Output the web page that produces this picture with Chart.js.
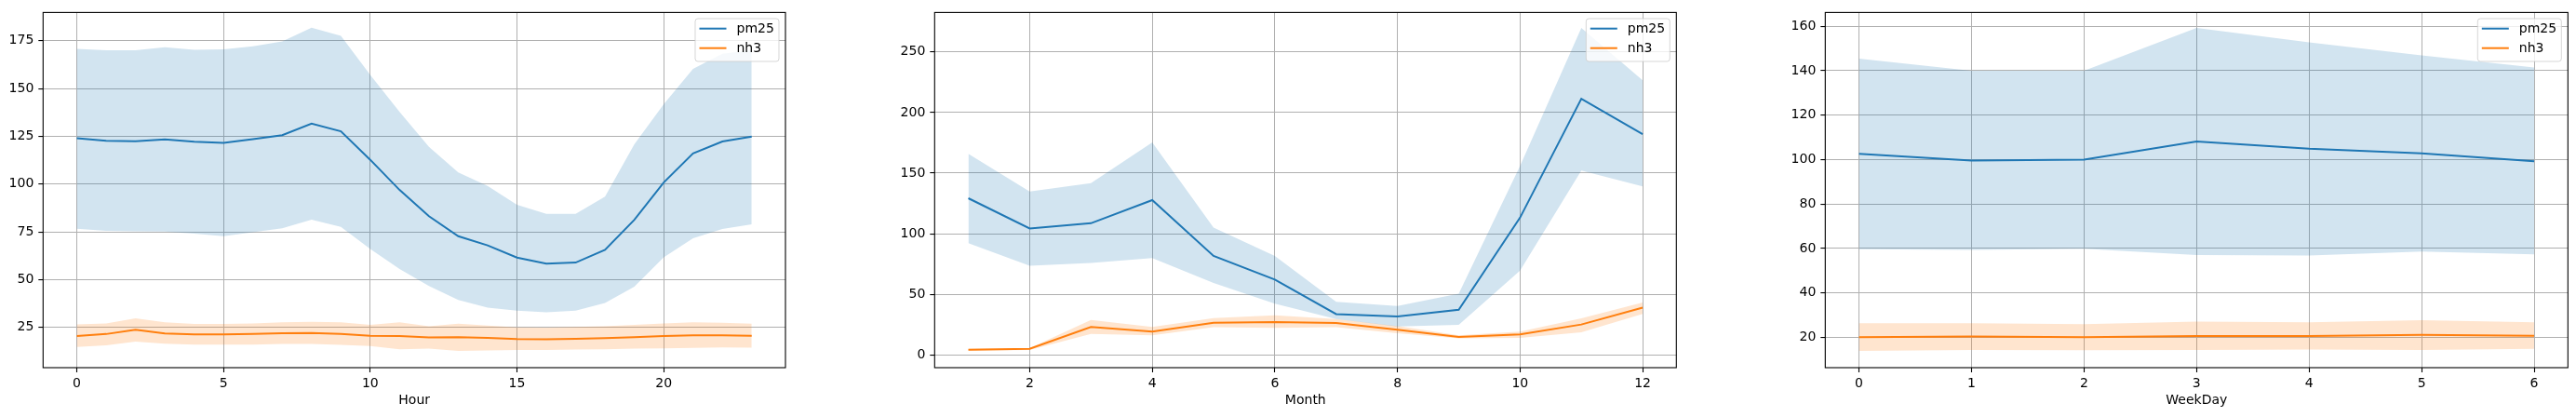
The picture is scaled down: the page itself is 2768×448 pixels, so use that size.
<!DOCTYPE html>
<html lang="en">
<head>
<meta charset="UTF-8">
<title>pm25 / nh3</title>
<style>
    html, body { margin: 0; padding: 0; background: #fff; }
    body { width: 2768px; height: 448px; position: relative; overflow: hidden; }
    canvas { position: absolute; top: 0; }
</style>
</head>
<body>

<canvas id="hourChart"></canvas>
<canvas id="monthChart"></canvas>
<canvas id="weekChart"></canvas>

<script src="https://cdn.jsdelivr.net/npm/chart.js@4.4.3/dist/chart.umd.min.js"></script>
<script>
    // ---- by hour ----
    const hours = [0, 1, 2, 3, 4, 5, 6, 7, 8, 9, 10, 11, 12, 13, 14, 15, 16, 17, 18, 19, 20, 21, 22, 23]
    const hourPm25 = [124.0, 122.6, 122.4, 123.4, 122.1, 121.5, 123.5, 125.6, 131.6, 127.6, 112.7, 96.9, 83.2, 72.7, 67.9, 61.5, 58.4, 58.9, 65.6, 81.3, 100.8, 116.0, 122.3, 124.8]
    const hourPm25Hi = [170.8, 170.0, 170.0, 171.6, 170.3, 170.5, 172.1, 174.7, 181.8, 177.6, 157.1, 137.7, 119.5, 106.1, 99.0, 89.2, 84.4, 84.4, 93.4, 120.8, 141.8, 160.3, 168.2, 170.0]
    const hourPm25Lo = [76.6, 75.5, 75.3, 75.2, 74.0, 72.7, 74.8, 76.8, 81.3, 77.6, 66.0, 55.5, 46.6, 39.4, 35.3, 33.7, 32.9, 33.7, 37.7, 46.3, 61.6, 71.6, 76.5, 78.9]
    const hourNh3 = [20.5, 21.5, 23.7, 21.8, 21.3, 21.3, 21.6, 21.9, 22.1, 21.6, 20.6, 20.5, 19.7, 19.8, 19.5, 18.9, 18.7, 19.0, 19.4, 19.8, 20.5, 20.8, 20.8, 20.6]
    const hourNh3Hi = [26.5, 27.1, 29.7, 27.6, 26.8, 26.8, 27.1, 27.6, 27.9, 27.6, 26.3, 27.6, 25.6, 26.9, 26.0, 25.0, 24.8, 25.2, 25.6, 26.3, 27.1, 27.6, 27.4, 26.9]
    const hourNh3Lo = [14.7, 15.6, 17.6, 16.5, 16.0, 16.0, 16.0, 16.3, 16.3, 15.8, 15.2, 13.5, 13.9, 12.7, 12.9, 13.2, 13.2, 13.4, 13.5, 13.9, 14.0, 14.2, 14.5, 14.4]
    const hourXTicks = [0, 5, 10, 15, 20]
    const hourYTicks = [25, 50, 75, 100, 125, 150, 175]

    // ---- by month ----
    const months = [1, 2, 3, 4, 5, 6, 7, 8, 9, 10, 11, 12]
    const monthPm25 = [129.3, 104.4, 108.7, 127.8, 81.8, 62.2, 33.8, 31.8, 37.3, 113.3, 211.4, 182.2]
    const monthPm25Hi = [165.9, 134.9, 141.8, 175.3, 105.2, 81.8, 44.0, 40.4, 50.6, 156.0, 269.8, 226.6]
    const monthPm25Lo = [92.2, 73.7, 76.0, 80.0, 59.5, 42.4, 29.7, 23.6, 24.9, 69.6, 152.2, 139.0]
    const monthNh3 = [4.3, 5.1, 23.1, 19.3, 26.7, 27.2, 26.4, 20.8, 15.0, 17.0, 25.2, 39.1]
    const monthNh3Hi = [5.1, 5.8, 29.0, 23.1, 30.5, 32.8, 29.7, 23.9, 16.3, 19.3, 30.2, 43.4]
    const monthNh3Lo = [3.6, 4.1, 17.5, 16.3, 22.9, 22.4, 22.9, 18.0, 13.7, 14.2, 18.8, 34.0]
    const monthXTicks = [2, 4, 6, 8, 10, 12]
    const monthYTicks = [0, 50, 100, 150, 200, 250]

    // ---- by weekday ----
    const weekdays = [0, 1, 2, 3, 4, 5, 6]
    const weekPm25 = [102.6, 99.6, 100.0, 108.2, 104.9, 102.8, 99.3]
    const weekPm25Hi = [145.4, 140.0, 140.0, 159.2, 152.8, 146.9, 141.4]
    const weekPm25Lo = [59.7, 59.4, 59.9, 57.1, 56.9, 58.6, 57.4]
    const weekNh3 = [20.1, 20.4, 20.1, 20.6, 20.6, 21.2, 20.7]
    const weekNh3Hi = [26.4, 26.4, 26.0, 27.1, 26.8, 27.8, 26.8]
    const weekNh3Lo = [13.9, 14.4, 14.3, 14.4, 14.6, 14.4, 14.9]
    const weekXTicks = [0, 1, 2, 3, 4, 5, 6]
    const weekYTicks = [20, 40, 60, 80, 100, 120, 140, 160]

    const BLUE = '#1f77b4'
    const ORANGE = '#ff7f0e'
    const FONT = { family: '"DejaVu Sans", sans-serif', size: 14 }

    Chart.defaults.color = '#000'
    Chart.defaults.font.family = FONT.family
    Chart.defaults.font.size = FONT.size

    // black frame on all four sides + matplotlib style legend inside the axes
    const frameLegend = {
        id: 'frameLegend',
        afterDraw(chart) {
            const { ctx, chartArea: a } = chart
            ctx.save()
            ctx.strokeStyle = '#000'
            ctx.lineWidth = 1.1
            ctx.strokeRect(a.left, a.top, a.right - a.left, a.bottom - a.top)

            const w = 90, h = 46
            const x = a.right - 7 - w
            const y = a.top + 6.6
            ctx.beginPath()
            ctx.roundRect(x, y, w, h, 3)
            ctx.fillStyle = 'rgba(255,255,255,0.8)'
            ctx.fill()
            ctx.strokeStyle = 'rgba(204,204,204,0.8)'
            ctx.lineWidth = 1
            ctx.stroke()

            ctx.font = '14px ' + FONT.family
            ctx.textBaseline = 'middle'
            ctx.textAlign = 'left'
            chart.data.datasets.filter(d => d.label).forEach((d, i) => {
                const cy = y + 10.7 + i * 21
                ctx.beginPath()
                ctx.strokeStyle = d.borderColor
                ctx.lineWidth = 2
                ctx.moveTo(x + 4.5, cy)
                ctx.lineTo(x + 33.5, cy)
                ctx.stroke()
                ctx.fillStyle = '#000'
                ctx.fillText(d.label, x + 44.5, cy + 1)
            })
            ctx.restore()
        }
    }

    function pts(xs, ys) {
        return xs.map((v, i) => ({ x: v, y: ys[i] }))
    }

    function drawPanel(id, p) {
        const canvas = document.getElementById(id)
        canvas.width = p.width
        canvas.height = 448
        canvas.style.left = p.left + 'px'
        canvas.style.width = p.width + 'px'
        canvas.style.height = '448px'

        const xs = p.xs
        const span = xs[xs.length - 1] - xs[0]

        new Chart(canvas.getContext('2d'), {
            type: 'line',
            data: {
                datasets: [
                    { label: 'pm25', data: pts(xs, p.pm25), borderColor: BLUE, borderWidth: 2, fill: false },
                    { label: 'nh3', data: pts(xs, p.nh3), borderColor: ORANGE, borderWidth: 2, fill: false },
                    { data: pts(xs, p.pm25Hi), borderWidth: 0, borderColor: 'transparent', backgroundColor: 'rgba(31,119,180,0.2)', fill: '+1' },
                    { data: pts(xs, p.pm25Lo), borderWidth: 0, borderColor: 'transparent', fill: false },
                    { data: pts(xs, p.nh3Hi), borderWidth: 0, borderColor: 'transparent', backgroundColor: 'rgba(255,127,14,0.2)', fill: '+1' },
                    { data: pts(xs, p.nh3Lo), borderWidth: 0, borderColor: 'transparent', fill: false },
                ],
            },
            options: {
                responsive: false,
                animation: false,
                events: [],
                elements: { point: { radius: 0 }, line: { tension: 0 } },
                layout: { padding: { top: 10.7, right: p.padRight, bottom: 0, left: 0 } },
                plugins: { legend: { display: false }, tooltip: { enabled: false } },
                scales: {
                    x: {
                        type: 'linear',
                        min: xs[0] - span * 0.05,
                        max: xs[xs.length - 1] + span * 0.05,
                        afterBuildTicks: s => { s.ticks = p.xTicks.map(v => ({ value: v })) },
                        afterFit: s => { s.height = 53 },
                        grid: { color: '#b0b0b0', lineWidth: 1, tickColor: '#000', tickLength: 5, tickWidth: 1.1 },
                        border: { display: false },
                        ticks: { padding: 4, color: '#000', font: FONT, maxRotation: 0, autoSkip: false },
                        title: { display: true, text: p.title, color: '#000', font: FONT, padding: { top: 4, bottom: 9 } },
                    },
                    y: {
                        min: p.yMin,
                        max: p.yMax,
                        afterBuildTicks: s => { s.ticks = p.yTicks.map(v => ({ value: v })) },
                        afterFit: s => { s.width = p.yWidth },
                        grid: { color: '#b0b0b0', lineWidth: 1.1, tickColor: '#000', tickLength: 5, tickWidth: 1.1 },
                        border: { display: false },
                        ticks: { padding: 5, color: '#000', font: FONT, autoSkip: false },
                    },
                },
            },
            plugins: [frameLegend],
        })
    }

    drawPanel('hourChart', {
        left: 0, width: 880, yWidth: 46.3, padRight: 36,
        xs: hours, pm25: hourPm25, pm25Hi: hourPm25Hi, pm25Lo: hourPm25Lo,
        nh3: hourNh3, nh3Hi: hourNh3Hi, nh3Lo: hourNh3Lo,
        xTicks: hourXTicks, yTicks: hourYTicks, yMin: 3.9, yMax: 189.8, title: 'Hour',
    })

    drawPanel('monthChart', {
        left: 950, width: 880, yWidth: 54.3, padRight: 28.7,
        xs: months, pm25: monthPm25, pm25Hi: monthPm25Hi, pm25Lo: monthPm25Lo,
        nh3: monthNh3, nh3Hi: monthNh3Hi, nh3Lo: monthNh3Lo,
        xTicks: monthXTicks, yTicks: monthYTicks, yMin: -10.4, yMax: 282.5, title: 'Month',
    })

    drawPanel('weekChart', {
        left: 1900, width: 868, yWidth: 61.3, padRight: 8.7,
        xs: weekdays, pm25: weekPm25, pm25Hi: weekPm25Hi, pm25Lo: weekPm25Lo,
        nh3: weekNh3, nh3Hi: weekNh3Hi, nh3Lo: weekNh3Lo,
        xTicks: weekXTicks, yTicks: weekYTicks, yMin: 6.4, yMax: 166.2, title: 'WeekDay',
    })
</script>

</body>
</html>
